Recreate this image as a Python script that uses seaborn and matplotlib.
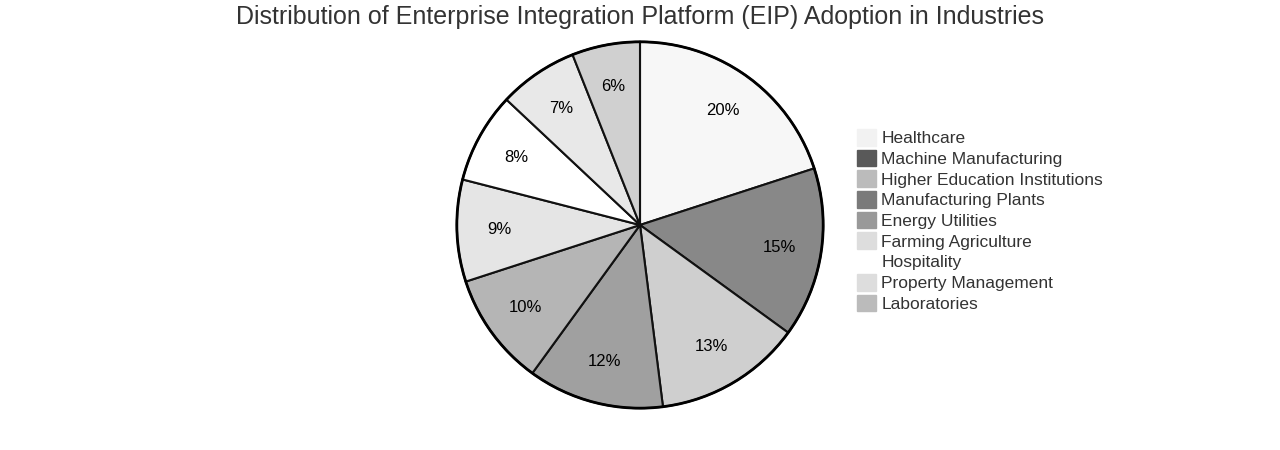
import matplotlib.pyplot as plt
import seaborn as sns
from matplotlib.patches import Patch

sns.set_theme(style="white")
plt.rcParams['font.family'] = ['Liberation Sans', 'DejaVu Sans']

# data
industries = ["Healthcare", "Machine Manufacturing", "Higher Education Institutions",
              "Manufacturing Plants", "Energy Utilities", "Farming Agriculture",
              "Hospitality", "Property Management", "Laboratories"]
shares = [20, 15, 13, 12, 10, 9, 8, 7, 6]
slice_colors = ["#f7f7f7", "#888888", "#cfcfcf", "#a0a0a0", "#b5b5b5",
                "#e5e5e5", "#ffffff", "#e8e8e8", "#d0d0d0"]
legend_colors = ["#f2f2f2", "#595959", "#bbbbbb", "#7a7a7a", "#999999",
                 "#dddddd", "#ffffff", "#dddddd", "#bbbbbb"]

fig = plt.figure(figsize=(12.8, 4.5), dpi=100)
ax = fig.add_axes([455 / 1280, 40 / 450, 370 / 1280, 370 / 450])

wedges, texts, autotexts = ax.pie(
    shares, colors=slice_colors, startangle=90, counterclock=False,
    autopct="%1.0f%%", pctdistance=0.77,
    wedgeprops=dict(edgecolor="#111111", linewidth=1.5),
    textprops=dict(fontsize=12, color="black"))
ax.add_patch(plt.Circle((0, 0), 1.0, fill=False, edgecolor="black", linewidth=2))
ax.set_aspect("equal")
ax.set_xlim(-1.01, 1.01)
ax.set_ylim(-1.01, 1.01)

handles = [Patch(facecolor=c, edgecolor=c) for c in legend_colors]
fig.legend(handles, industries, loc="upper left", bbox_to_anchor=(850 / 1280, 1 - 122 / 450),
           frameon=False, fontsize=12.5, handlelength=1.1, handleheight=1.1,
           handletextpad=0.3, labelspacing=0.2, borderaxespad=0, labelcolor="#333333")

fig.text(0.5, 1 - 17 / 450, "Distribution of Enterprise Integration Platform (EIP) Adoption in Industries",
         ha="center", va="center", fontsize=18, color="#333333")

fig.savefig("out.png", dpi=100)
